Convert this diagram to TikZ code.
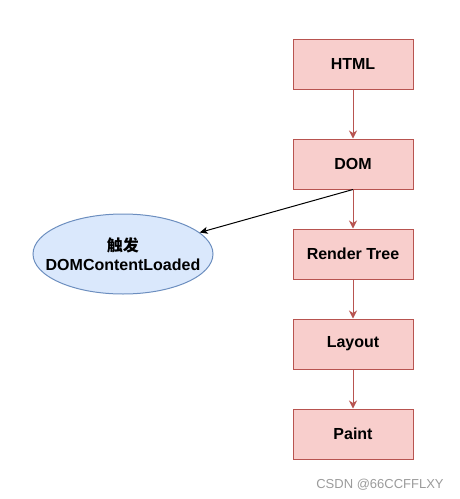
\documentclass[tikz,border=0pt]{standalone}
\usepackage{fontspec}
\setmainfont{Liberation Sans}
\newfontfamily\cjk{Noto Sans CJK SC}
\usetikzlibrary{arrows.meta,shapes.geometric}
\definecolor{boxfill}{HTML}{F8CECC}
\definecolor{boxline}{HTML}{B85450}
\definecolor{evfill}{HTML}{DAE8FC}
\definecolor{evline}{HTML}{6C8EBF}
\definecolor{wmark}{RGB}{155,155,155}
\begin{document}
\begin{tikzpicture}[x=1pt,y=-1pt,
  box/.style={draw=boxline, fill=boxfill, line width=1pt, minimum width=120pt, minimum height=50pt, inner sep=0pt, font=\fontsize{16}{19}\selectfont\bfseries},
  evt/.style={draw=evline, fill=evfill, line width=1pt, ellipse, minimum width=180pt, minimum height=80pt, inner sep=0pt},
  evtxt/.style={align=center, inner sep=0pt, font=\fontsize{16}{19}\selectfont\bfseries},
  flow/.style={draw=boxline, line width=1pt, -{Stealth[length=8pt,width=8pt,inset=2.5pt]}},
  trig/.style={draw=black, line width=1pt, -{Stealth[length=8pt,width=7pt,inset=2pt]}}
]
\useasboundingbox (0,0) rectangle (460,499);
\node[box] (html) at (353,64) {HTML};
\node[box] (dom) at (353,164) {DOM};
\node[box] (render) at (353,254) {Render Tree};
\node[box] (layout) at (353,344) {Layout};
\node[box] (paint) at (353,434) {Paint};
\node[evt] (event) at (123,254) {};
\node[evtxt] (eventtext) at (event.center) {{\cjk 触发}\\DOMContentLoaded};
\draw[flow] (html) -- (dom);
\draw[flow] (dom) -- (render);
\draw[flow] (render) -- (layout);
\draw[flow] (layout) -- (paint);
\draw[trig] (dom.south) -- (event);
\node[text=wmark, font=\fontsize{13}{15}\selectfont, anchor=center] (wm) at (380,485) {CSDN @66CCFFLXY};
\end{tikzpicture}
\end{document}
